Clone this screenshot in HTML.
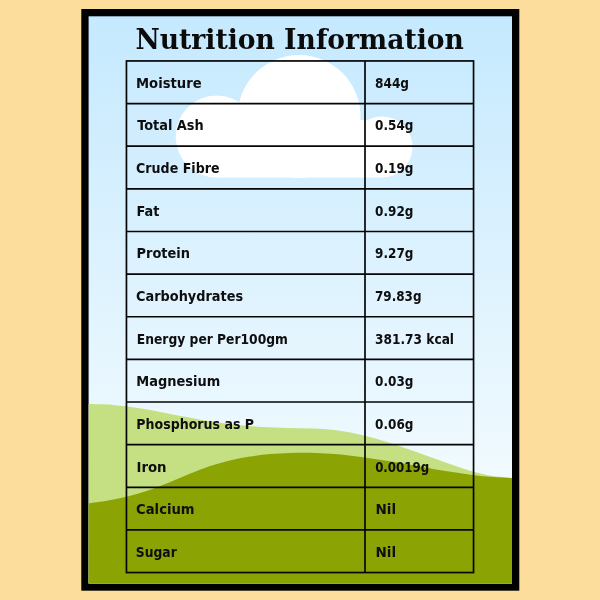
<!DOCTYPE html>
<html lang="en">
<head>
<meta charset="utf-8">
<title>Nutrition Information</title>
<style>
  html, body { margin: 0; padding: 0; width: 600px; height: 600px; overflow: hidden; background: #fcdd9b; }
  svg { display: block; }
  .title { font-family: "DejaVu Serif", "Liberation Serif", serif; font-weight: bold; font-size: 28.4px; fill: #0b0b0b; }
  .cell { font-family: "DejaVu Sans Condensed", "Liberation Sans", sans-serif; font-weight: bold; font-size: 13.7px; fill: #0e0e0e; }
  .grid line, .grid rect { stroke: #050505; stroke-width: 1.7; fill: none; }
</style>
</head>
<body>
<svg width="600" height="600" viewBox="0 0 600 600">
  <defs>
    <linearGradient id="sky" x1="0" y1="0" x2="0" y2="1">
      <stop offset="0" stop-color="#c5e9fe"/>
      <stop offset="1" stop-color="#fbfeff"/>
    </linearGradient>
    <clipPath id="inner"><rect x="88.6" y="16.3" width="423.4" height="567.2"/></clipPath>
  </defs>

  <!-- page background -->
  <rect x="0" y="0" width="600" height="600" fill="#fcdd9b"/>

  <!-- framed card -->
  <rect x="81.3" y="9" width="438" height="581.7" fill="#000"/>
  <rect x="88.6" y="16.3" width="423.4" height="567.2" fill="url(#sky)"/>

  <g clip-path="url(#inner)">
    <!-- cloud -->
    <g id="cloud" fill="#ffffff">
      <circle cx="216.7" cy="136.5" r="41"/>
      <circle cx="299" cy="116.5" r="61.5"/>
      <circle cx="382" cy="147" r="30.5"/>
      <rect x="216.7" y="120" width="165.3" height="57.5"/>
    </g>

    <!-- back hill -->
    <path fill="#c4e083"
      d="M 88.0 404.1 C 92.2 404.2 104.7 404.3 113.0 404.9 C 121.3 405.6 129.7 406.7 138.0 408.0 C 146.3 409.2 154.7 410.9 163.0 412.4 C 171.3 414.0 179.7 415.8 188.0 417.3 C 196.3 418.9 204.7 420.6 213.0 421.8 C 221.3 423.1 229.7 424.2 238.0 425.1 C 246.3 425.9 254.7 426.5 263.0 426.9 C 271.3 427.4 279.7 427.6 288.0 427.9 C 296.3 428.1 304.7 428.1 313.0 428.5 C 321.3 429.0 329.7 429.4 338.0 430.5 C 346.3 431.7 354.7 433.3 363.0 435.3 C 371.3 437.3 379.7 439.8 388.0 442.3 C 396.3 444.9 404.7 447.9 413.0 450.8 C 421.3 453.7 429.7 456.8 438.0 459.8 C 446.3 462.7 454.7 465.9 463.0 468.5 C 471.3 471.0 479.7 473.6 488.0 475.2 C 496.3 476.7 508.8 477.4 513.0 477.9 L 513 584 L 88 584 Z"/>

    <!-- front hill -->
    <path fill="#8ba404"
      d="M 88.0 503.5 C 91.4 503.0 101.5 501.8 108.2 500.6 C 115.0 499.4 121.7 498.0 128.5 496.3 C 135.2 494.6 142.0 492.6 148.7 490.3 C 155.5 488.1 162.2 485.3 169.0 482.6 C 175.7 479.9 182.4 476.7 189.2 474.0 C 195.9 471.3 202.7 468.6 209.4 466.3 C 216.2 464.1 222.9 462.2 229.7 460.6 C 236.4 459.0 243.2 457.7 249.9 456.6 C 256.7 455.5 263.4 454.7 270.1 454.1 C 276.9 453.4 283.6 453.1 290.4 452.9 C 297.1 452.6 303.9 452.6 310.6 452.8 C 317.4 453.0 324.1 453.3 330.9 453.8 C 337.6 454.3 344.3 454.9 351.1 455.7 C 357.8 456.5 364.6 457.4 371.3 458.4 C 378.1 459.3 384.8 460.5 391.6 461.6 C 398.3 462.7 405.1 463.9 411.8 465.1 C 418.6 466.3 425.3 467.5 432.0 468.7 C 438.8 469.9 445.5 471.0 452.3 472.1 C 459.0 473.1 465.8 474.1 472.5 474.9 C 479.3 475.8 486.0 476.5 492.8 477.1 C 499.5 477.6 509.6 478.0 513.0 478.2 L 513 584 L 88 584 Z"/>
  </g>

  <!-- title -->
  <text class="title" x="135.43" y="49.2" textLength="328.43" lengthAdjust="spacingAndGlyphs">Nutrition Information</text>

  <!-- table grid -->
  <g class="grid">
    <rect x="126.45" y="60.95" width="347.10" height="511.60"/>
    <line x1="365" y1="60.95" x2="365" y2="572.55"/>
    <line x1="126.45" y1="103.58" x2="473.55" y2="103.58"/>
    <line x1="126.45" y1="146.22" x2="473.55" y2="146.22"/>
    <line x1="126.45" y1="188.85" x2="473.55" y2="188.85"/>
    <line x1="126.45" y1="231.48" x2="473.55" y2="231.48"/>
    <line x1="126.45" y1="274.12" x2="473.55" y2="274.12"/>
    <line x1="126.45" y1="316.75" x2="473.55" y2="316.75"/>
    <line x1="126.45" y1="359.38" x2="473.55" y2="359.38"/>
    <line x1="126.45" y1="402.02" x2="473.55" y2="402.02"/>
    <line x1="126.45" y1="444.65" x2="473.55" y2="444.65"/>
    <line x1="126.45" y1="487.28" x2="473.55" y2="487.28"/>
    <line x1="126.45" y1="529.92" x2="473.55" y2="529.92"/>
  </g>

  <!-- labels -->
  <g class="cell">
    <text x="136.01" y="87.8" textLength="65.66" lengthAdjust="spacingAndGlyphs">Moisture</text>
    <text x="137.25" y="130.4" textLength="66.52" lengthAdjust="spacingAndGlyphs">Total Ash</text>
    <text x="136.09" y="173.1" textLength="83.47" lengthAdjust="spacingAndGlyphs">Crude Fibre</text>
    <text x="136.54" y="215.7" textLength="22.8" lengthAdjust="spacingAndGlyphs">Fat</text>
    <text x="136.53" y="258.3" textLength="53.52" lengthAdjust="spacingAndGlyphs">Protein</text>
    <text x="136.08" y="301.0" textLength="107.08" lengthAdjust="spacingAndGlyphs">Carbohydrates</text>
    <text x="136.84" y="343.6" textLength="151.09" lengthAdjust="spacingAndGlyphs">Energy per Per100gm</text>
    <text x="136.28" y="386.2" textLength="83.94" lengthAdjust="spacingAndGlyphs">Magnesium</text>
    <text x="136.31" y="428.9" textLength="117.73" lengthAdjust="spacingAndGlyphs">Phosphorus as P</text>
    <text x="136.5" y="471.5" textLength="30.07" lengthAdjust="spacingAndGlyphs">Iron</text>
    <text x="136.06" y="514.1" textLength="58.54" lengthAdjust="spacingAndGlyphs">Calcium</text>
    <text x="135.85" y="556.8" textLength="40.96" lengthAdjust="spacingAndGlyphs">Sugar</text>
  </g>

  <!-- values -->
  <g class="cell">
    <text x="374.99" y="87.8" textLength="34.07" lengthAdjust="spacingAndGlyphs">844g</text>
    <text x="375.12" y="130.4" textLength="38.35" lengthAdjust="spacingAndGlyphs">0.54g</text>
    <text x="375.12" y="173.1" textLength="38.35" lengthAdjust="spacingAndGlyphs">0.19g</text>
    <text x="375.12" y="215.7" textLength="38.35" lengthAdjust="spacingAndGlyphs">0.92g</text>
    <text x="375.12" y="258.3" textLength="38.35" lengthAdjust="spacingAndGlyphs">9.27g</text>
    <text x="375.0" y="301.0" textLength="46.54" lengthAdjust="spacingAndGlyphs">79.83g</text>
    <text x="374.99" y="343.6" textLength="79.08" lengthAdjust="spacingAndGlyphs">381.73 kcal</text>
    <text x="375.12" y="386.2" textLength="38.35" lengthAdjust="spacingAndGlyphs">0.03g</text>
    <text x="375.12" y="428.9" textLength="38.35" lengthAdjust="spacingAndGlyphs">0.06g</text>
    <text x="375.13" y="471.5" textLength="54.09" lengthAdjust="spacingAndGlyphs">0.0019g</text>
    <text x="375.48" y="514.1" textLength="20.61" lengthAdjust="spacingAndGlyphs">Nil</text>
    <text x="375.48" y="556.8" textLength="20.61" lengthAdjust="spacingAndGlyphs">Nil</text>
  </g>
</svg>
</body>
</html>
